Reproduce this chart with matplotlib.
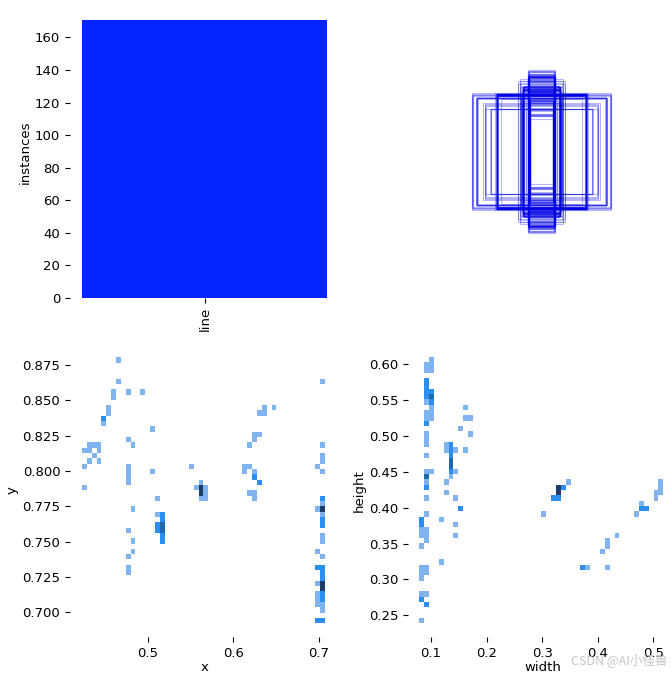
import numpy as np
import matplotlib
matplotlib.use('Agg')
import matplotlib.pyplot as plt
from matplotlib.colors import ListedColormap, BoundaryNorm
from matplotlib.patches import Rectangle

classes = ['line']
instances = [171]

# x / y bins
xy_x = [.4653, .4653, .4597, .4597, .4767, .4938, .4540, .4540, .4483, .4483,
        .5051, .4767, .4824, .4312, .4369, .4426, .4255, .4312, .4426, .4369,
        .4312, .4426, .4255, .4255, .4767, .4767, .4767, .4767, .5051, .5507,
        .5108, .4824, .5108, .5165, .5165, .5108, .5108, .5165, .5165, .5165, .5165,
        .4767, .4824, .4824, .4767, .4767, .4767,
        .5621, .5564, .5621, .5621, .5677, .5677, .5677, .5621,
        .6474, .6360, .6360, .6303, .6303, .6246, .6246, .6189, .6133, .6189, .6133,
        .6246, .6246, .6303, .6189, .6246, .6246,
        .7043, .7043, .7043, .7043, .6986, .7043, .7043, .7043, .6986, .7043,
        .7043, .7043, .7043, .7043, .7043, .6986, .7043, .6986, .7043, .7043,
        .7043, .7043, .6986, .7043, .7043, .6986, .7043, .6986, .7043, .6986, .7043,
        .7043, .6986]
xy_y = [.8786, .8636, .8560, .8523, .8560, .8560, .8447, .8410, .8372, .8334,
        .8297, .8221, .8184, .8184, .8184, .8184, .8146, .8146, .8146, .8108,
        .8071, .8071, .8033, .7882, .8033, .7995, .7957, .7920, .7995, .8033,
        .7806, .7731, .7693, .7693, .7655, .7618, .7580, .7618, .7580, .7542, .7505,
        .7580, .7505, .7429, .7392, .7316, .7279,
        .7920, .7882, .7882, .7844, .7882, .7844, .7806, .7806,
        .8447, .8447, .8410, .8410, .8259, .8259, .8221, .8184, .8033, .8033, .7995,
        .7995, .7957, .7920, .7844, .7844, .7806,
        .8636, .8184, .8108, .8071, .8033, .7995, .7806, .7769, .7731, .7731,
        .7693, .7655, .7618, .7542, .7505, .7429, .7392, .7316, .7316, .7279,
        .7241, .7203, .7203, .7166, .7128, .7128, .7090, .7090, .7052, .7052, .7015,
        .6939, .6939]
xy_n = [1, 1, 1, 1, 1, 1, 1, 1, 2, 1,
        1, 1, 1, 1, 1, 1, 1, 1, 1, 1,
        1, 1, 1, 1, 1, 1, 1, 1, 1, 1,
        1, 1, 1, 2, 2, 2, 2, 3, 3, 2, 2,
        1, 1, 1, 1, 1, 1,
        1, 1, 4, 4, 1, 1, 1, 1,
        1, 1, 1, 1, 1, 1, 1, 1, 1, 1, 1,
        1, 2, 2, 1, 1, 1,
        1, 1, 1, 1, 1, 1, 2, 1, 1, 4,
        1, 2, 2, 1, 1, 1, 1, 2, 2, 2,
        2, 4, 1, 4, 2, 1, 2, 1, 1, 1, 1,
        2, 2]

# width / height bins
wh_w = [.1010, .0922, .1010, .0922, .1010, .0922, .0922,
        .0922, .1010, .0922, .1010, .0922, .1010, .1010,
        .0922, .1010, .0922, .1010, .0922,
        .0922, .0922, .0922, .0922, .0922, .1010,
        .0922, .0922, .0922, .0922, .0922, .1185,
        .0834, .0834, .0834, .0922, .0834, .0922, .0922, .0834,
        .1185, .0834, .0834, .0834, .0922, .0922,
        .0834, .0922, .0834, .0922, .0834,
        .1273, .1273, .1361, .1361, .1361, .1361, .1361, .1361, .1361,
        .1449, .1449, .1273, .1273, .1449, .1537, .1449, .1449,
        .1625, .1625, .1712, .1537, .1712, .1625,
        .3029, .3468, .3380, .3292, .3292, .3204, .3292,
        .5136, .5136, .5136, .5048, .5048, .4785, .4785, .4873, .4697,
        .4346, .4170, .4170, .4082, .3731, .3819, .4170]
wh_h = [.6069, .5994, .5994, .5920, .5920, .5771, .5697,
        .5623, .5623, .5548, .5548, .5474, .5474, .5399,
        .5325, .5325, .5251, .5251, .5176,
        .5027, .4953, .4879, .4730, .4507, .4507,
        .4432, .4358, .4283, .4135, .3911, .3837,
        .3837, .3763, .3688, .3688, .3614, .3614, .3539, .3465,
        .3242, .3167, .3093, .3018, .3167, .3093,
        .2795, .2795, .2721, .2646, .2423,
        .4879, .4804, .4879, .4804, .4730, .4655, .4581, .4507, .4432,
        .4804, .4507, .4358, .4209, .4135, .3986, .3763, .3614,
        .5399, .5251, .5251, .5102, .5027, .4804,
        .3911, .4358, .4283, .4283, .4209, .4135, .4135,
        .4358, .4283, .4209, .4209, .4135, .4060, .3986, .3986, .3911,
        .3614, .3539, .3465, .3391, .3167, .3167, .3167]
wh_n = [1, 1, 1, 1, 1, 2, 2,
        2, 2, 2, 3, 1, 2, 1,
        1, 1, 1, 1, 2,
        1, 1, 1, 1, 1, 1,
        3, 1, 2, 1, 1, 1,
        2, 2, 1, 1, 1, 1, 1, 1,
        1, 1, 1, 1, 1, 1,
        1, 1, 2, 2, 1,
        1, 1, 2, 2, 2, 3, 3, 2, 1,
        1, 1, 1, 1, 1, 2, 1, 1,
        1, 1, 1, 1, 1, 1,
        1, 1, 2, 4, 4, 2, 2,
        1, 1, 1, 1, 1, 1, 2, 2, 1,
        1, 1, 1, 1, 2, 1, 1]

FW, FH = 672, 673
plt.rcParams['font.family'] = ['DejaVu Sans']
plt.rcParams['font.size'] = 9.5


def add_axes(fig, left, right, top, bottom):
    return fig.add_axes([left / FW, 1 - bottom / FH, (right - left) / FW, (bottom - top) / FH])


def clean(ax):
    for s in ax.spines.values():
        s.set_visible(False)
    ax.tick_params(length=3.5, width=0.8, labelsize=9.5, pad=3.5)
    ax.tick_params(axis='x', pad=4)


cmap = ListedColormap(['#7fb4ee', '#2a8ff0', '#1f69ae', '#1c3d69'])
norm = BoundaryNorm([0.5, 1.5, 2.5, 3.5, 4.5], 4)

fig = plt.figure(figsize=(FW / 100, FH / 100), dpi=100)

# class counts
ax1 = add_axes(fig, 70, 339.5, 5.5, 298)
ax1.bar(range(len(classes)), instances, width=0.9, color='#0424ff')
ax1.set_xlim(-0.495, 0.495)
ax1.set_ylim(0, 179.6)
ax1.set_xticks(range(len(classes)))
ax1.set_xticklabels(classes, rotation=90)
ax1.set_yticks(range(0, 161, 20))
ax1.set_ylabel('instances', labelpad=2.5)
clean(ax1)
ax1.tick_params(axis='x', pad=2.5)

# boxes centred on one point
ax2 = add_axes(fig, 406.5, 676.5, 5.5, 297.5)
ax2.set_xlim(0, 1)
ax2.set_ylim(0.5 - 146 / 270, 0.5 + 146 / 270)
ax2.axis('off')
for w, h, n in zip(wh_w, wh_h, wh_n):
    ax2.add_patch(Rectangle((0.5 - w / 2, 0.5 - h / 2), w, h, fill=False,
                            edgecolor='#0000e6', linewidth=0.8, alpha=min(1, 0.28 * n)))

# x vs y
ax3 = add_axes(fig, 70, 339, 344, 636.6)
xbins = np.linspace(0.4227, 0.7073, 51)
ybins = np.linspace(0.6922, 0.8805, 51)
ax3.hist2d(xy_x, xy_y, bins=[xbins, ybins], weights=xy_n, cmin=0.5, cmap=cmap, norm=norm)
ax3.set_xlim(0.4087, 0.7237)
ax3.set_ylim(0.6828, 0.8899)
ax3.set_xticks([0.5, 0.6, 0.7])
ax3.set_yticks([0.700, 0.725, 0.750, 0.775, 0.800, 0.825, 0.850, 0.875])
ax3.set_yticklabels(['0.700', '0.725', '0.750', '0.775', '0.800', '0.825', '0.850', '0.875'])
ax3.set_xlabel('x', labelpad=0.5)
ax3.set_ylabel('y', labelpad=2.5)
clean(ax3)

# width vs height
ax4 = add_axes(fig, 408, 677, 344, 636.6)
wbins = np.linspace(0.079, 0.5178, 51)
hbins = np.linspace(0.2388, 0.6106, 51)
ax4.hist2d(wh_w, wh_h, bins=[wbins, hbins], weights=wh_n, cmin=0.5, cmap=cmap, norm=norm)
ax4.set_xlim(0.0586, 0.5424)
ax4.set_ylim(0.2203, 0.6283)
ax4.set_xticks([0.1, 0.2, 0.3, 0.4, 0.5])
ax4.set_yticks([0.25, 0.30, 0.35, 0.40, 0.45, 0.50, 0.55, 0.60])
ax4.set_yticklabels(['0.25', '0.30', '0.35', '0.40', '0.45', '0.50', '0.55', '0.60'])
ax4.set_xlabel('width', labelpad=0.5)
ax4.set_ylabel('height', labelpad=2.5)
clean(ax4)

fig.text(619 / FW, 1 - 660 / FH, 'CSDN @AI小怪兽', color='#c6c6c6', fontsize=9,
         ha='center', va='center', family=['Noto Sans CJK SC', 'DejaVu Sans'])

fig.savefig('out.png', dpi=100)
